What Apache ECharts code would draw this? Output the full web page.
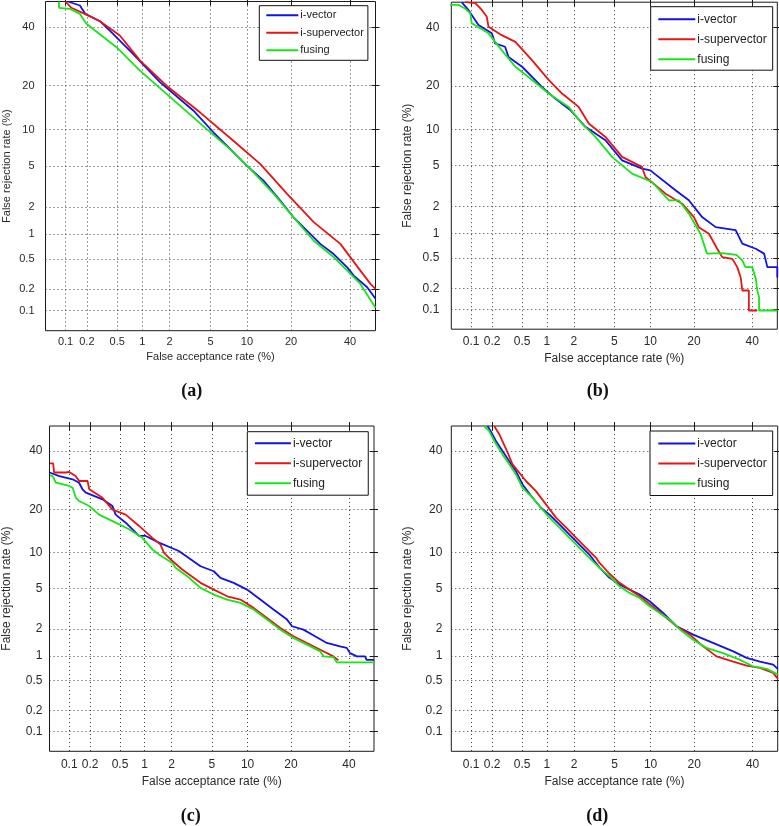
<!DOCTYPE html>
<html><head><meta charset="utf-8">
<script src="https://cdn.jsdelivr.net/npm/echarts@6.0.0/dist/echarts.min.js"></script>
<style>html,body{margin:0;padding:0;background:#fff}#c{width:779px;height:826px}</style>
</head><body><div id="c"></div><script>
// ---- tick labels (percent) ----
const tickLabels = [0.1, 0.2, 0.5, 1, 2, 5, 10, 20, 40];
const seriesNames = ['i-vector', 'i-supervector', 'fusing'];
const panelTags = ['(a)', '(b)', '(c)', '(d)'];
const xTitle = 'False acceptance rate (%)';
const yTitle = 'False rejection rate (%)';

// ---- panel (a) ----
const aIvecFA = [0.108,0.16,0.19,0.30,0.444,0.78,1.58,3.46,5.3,7.82,9.97,13.2,17.1,20.7,24.7,29.1,33.8,38.9,41.4,46.7,50];
const aIvecFR = [50,48.4,45.1,42.2,37.3,30.05,21.0,13.8,9.56,6.6,5.05,3.67,2.33,1.55,1.10,0.77,0.58,0.394,0.307,0.214,0.148];
const aIsupFA = [0.10,0.121,0.187,0.30,0.54,0.94,1.86,4.0,7.82,12.5,18.9,26.9,36.3,44.0,48.0,50];
const aIsupFR = [50,47.5,45.1,42.2,36.7,27.8,20.0,13.4,8.2,5.23,2.72,1.37,0.77,0.357,0.238,0.203];
const aFuseFA = [0.08,0.08,0.114,0.16,0.197,0.49,0.94,1.86,4.62,7.82,11.2,15.5,20.7,26.9,33.8,38.9,44.0,50];
const aFuseFR = [50,47.5,47.1,45.1,41.2,32.4,24.5,17.8,10.1,6.6,4.39,2.72,1.55,0.84,0.53,0.357,0.238,0.11];

// ---- panel (b) ----
const bIvecFA = [0.072,0.091,0.128,0.198,0.22,0.30,0.333,0.50,0.875,1.25,1.83,2.64,4.14,5.86,8.61,10.0,15.2,18.6,22.4,26.7,33.7,36.2,41.4,44.7,46.0,50,50];
const bIvecFR = [50,46.9,40.9,37.7,33.9,32.7,29.1,25.8,19.7,16.6,13.9,10.5,8.24,5.58,4.7,4.53,2.92,2.31,1.53,1.18,1.09,0.755,0.655,0.57,0.384,0.384,0.28];
const bIsupFA = [0.081,0.115,0.143,0.168,0.178,0.27,0.41,0.663,1.05,1.49,2.25,2.85,4.14,5.86,7.6,8.61,9.16,12.97,16.85,20.0,21.4,24.5,27.2,28.9,32.5,34.3,35.6,36.2,38.7,38.7,42.0];
const bIsupFR = [50,49.6,46.9,44.2,40.2,37.0,34.5,28.0,21.7,17.9,14.6,11.1,8.76,5.98,5.22,4.87,3.93,2.7,2.13,1.53,1.18,0.99,0.655,0.516,0.49,0.384,0.28,0.186,0.186,0.096,0.096];
const bFuseFA = [0.048,0.065,0.081,0.097,0.102,0.178,0.27,0.41,0.60,1.05,1.76,2.43,3.32,4.77,7.13,10.3,13.7,16.0,18.6,21.9,23.9,28.9,34.0,36.2,37.4,40.0,41.4,42.0,42.7,42.7,50];
const bFuseFR = [48.9,48.9,47.5,45.5,41.6,37.7,31.5,25.8,22.6,17.9,14.6,11.1,8.76,5.98,4.23,3.52,2.31,2.31,1.67,0.99,0.57,0.58,0.55,0.47,0.384,0.384,0.27,0.186,0.15,0.096,0.096];

// ---- panel (c) ----
const cIvecFA = [0.05,0.071,0.112,0.139,0.156,0.174,0.295,0.40,0.44,0.59,0.86,1.03,1.46,2.39,3.93,5.21,5.97,7.74,9.9,12.45,15.4,18.9,20.3,23.7,27.5,31.6,36.5,39.1,40.4,43.1,46.4,47.0,50];
const cIvecFR = [31.9,30.6,29.5,28.3,26.1,25.0,22.9,20.9,18.5,16.4,13.3,13.3,11.9,10.3,7.8,7.09,6.23,5.63,4.9,3.96,3.17,2.51,2.14,1.97,1.67,1.41,1.29,1.24,1.08,0.99,0.99,0.90,0.90];
const cIsupFA = [0.051,0.057,0.059,0.089,0.10,0.125,0.139,0.184,0.194,0.295,0.40,0.59,0.86,1.23,1.52,1.66,1.96,2.59,3.93,5.21,6.82,8.78,11.1,13.9,17.1,20.7,24.8,29.3,34.0,35.9];
const cIsupFR = [35.3,35.3,31.9,31.9,32.1,30.6,28.9,28.9,26.1,23.4,19.9,18.5,15.6,12.9,11.5,9.97,8.85,7.33,5.63,4.9,4.25,3.96,3.29,2.61,2.05,1.67,1.41,1.18,0.99,0.89];
const cFuseFA = [0.051,0.056,0.063,0.10,0.112,0.125,0.139,0.194,0.265,0.40,0.65,0.94,1.23,1.46,2.04,2.21,3.0,3.93,5.21,6.82,8.78,11.1,13.9,17.1,20.7,24.8,29.3,30.4,34.0,35.3,50];
const cFuseFR = [30.9,30.6,28.3,27.2,26.6,23.4,22.4,20.9,18.5,16.8,14.8,12.9,10.6,9.68,8.3,7.57,6.3,5.08,4.41,3.96,3.68,3.17,2.51,1.97,1.60,1.35,1.13,0.99,0.97,0.84,0.84];

// ---- panel (d) ----
const dIvecFA = [0.172,0.19,0.225,0.277,0.34,0.416,0.505,0.674,0.85,1.07,1.39,1.79,2.28,2.88,3.62,4.5,5.54,6.77,8.2,9.84,12.4,15.4,19.7,25.7,32.7,37.7,42.9,48.2,50];
const dIvecFR = [50,48,44,40,36.1,32.4,27.7,23.4,20.4,18.5,16.0,13.6,11.5,9.68,7.6,6.23,5.44,4.9,4.41,3.81,2.93,2.14,1.74,1.41,1.13,0.95,0.86,0.79,0.70];
const dIsupFA = [0.213,0.25,0.31,0.376,0.557,0.74,0.975,1.27,1.65,2.11,2.67,3.36,3.62,4.5,5.54,8.2,11.05,15.4,18.8,22.6,26.9,32.7,37.7,42.9,48.2,50];
const dIsupFR = [50,46.7,40.7,34.9,28.9,25.5,21.4,17.7,15.2,12.9,10.9,9.12,8.3,6.75,5.63,4.25,3.17,2.14,1.74,1.29,0.99,0.86,0.77,0.72,0.625,0.53];
const dFuseFA = [0.154,0.181,0.213,0.277,0.34,0.416,0.505,0.674,0.85,1.07,1.39,1.79,2.28,2.88,3.62,4.5,5.54,6.77,8.2,9.84,11.7,13.8,16.2,19.7,23.6,29.1,35.2,40.2,45.6,50];
const dFuseFR = [50,48,44,38.7,34.9,31.2,26.6,23.4,20.4,17.7,15.2,12.9,10.9,9.12,7.57,6.43,5.25,4.57,4.1,3.41,2.93,2.51,1.97,1.53,1.24,1.08,0.90,0.75,0.70,0.60];

const colors = ['#1212e8', '#e81414', '#16e616'];

// inverse normal CDF (probit) used for the DET scale
function probit(p){
  const a=[-3.969683028665376e+01,2.209460984245205e+02,-2.759285104469687e+02,1.383577518672690e+02,-3.066479806614716e+01,2.506628277459239e+00];
  const b=[-5.447609879822406e+01,1.615858368580409e+02,-1.556989798598866e+02,6.680131188771972e+01,-1.328068155288572e+01];
  const c=[-7.784894002430293e-03,-3.223964580411365e-01,-2.400758277161838e+00,-2.549732539343734e+00,4.374664141464968e+00,2.938163982698783e+00];
  const d=[7.784695709041462e-03,3.224671290700398e-01,2.445134137142996e+00,3.754408661907416e+00];
  const pl=0.02425, ph=1-pl; let q,r;
  if(p<pl){q=Math.sqrt(-2*Math.log(p));return (((((c[0]*q+c[1])*q+c[2])*q+c[3])*q+c[4])*q+c[5])/((((d[0]*q+d[1])*q+d[2])*q+d[3])*q+1);}
  if(p<=ph){q=p-0.5;r=q*q;return (((((a[0]*r+a[1])*r+a[2])*r+a[3])*r+a[4])*r+a[5])*q/(((((b[0]*r+b[1])*r+b[2])*r+b[3])*r+b[4])*r+1);}
  q=Math.sqrt(-2*Math.log(1-p));return -(((((c[0]*q+c[1])*q+c[2])*q+c[3])*q+c[4])*q+c[5])/((((d[0]*q+d[1])*q+d[2])*q+d[3])*q+1);
}
const pz = v => probit(v/100);
const AX_MIN = pz(0.05), AX_MAX = 0;
const tickPos = tickLabels.map(pz);
function fmt(v){ let best='', bd=1e9; tickLabels.forEach(l=>{const dd=Math.abs(pz(l)-v); if(dd<bd){bd=dd;best=String(l);}}); return best; }

const panels = [
  {grid:{left:45,top:1.5,width:330.5,height:329.2}, fs:11, xm:6, ym:11, xg:21, yg:33.5,
   lg:{left:259.3,top:5.7,padding:[4,4,4.6,6],itemGap:6.5,itemWidth:32,fs:11}, tag:[191.7,391.7],
   data:[[aIvecFA,aIvecFR],[aIsupFA,aIsupFR],[aFuseFA,aFuseFR]]},
  {grid:{left:451.3,top:2.2,width:326,height:327}, fs:12, xm:6, ym:12, xg:23.5, yg:38,
   lg:{left:650.7,top:6.7,padding:[6.5,6,5,6.6],itemGap:8,itemWidth:37,fs:12}, tag:[597.7,391.7],
   data:[[bIvecFA,bIvecFR],[bIsupFA,bIsupFR],[bFuseFA,bFuseFR]]},
  {grid:{left:48,top:426,width:326,height:325.3}, fs:12, xm:7, ym:7, xg:24.5, yg:36.5,
   lg:{left:247.3,top:431.7,padding:[5.5,6,6,6.6],itemGap:8,itemWidth:36,fs:12}, tag:[190.8,816.7],
   data:[[cIvecFA,cIvecFR],[cIsupFA,cIsupFR],[cFuseFA,cFuseFR]]},
  {grid:{left:451.3,top:426,width:326.4,height:325.3}, fs:12, xm:7, ym:9, xg:24.5, yg:38,
   lg:{left:650,top:431,padding:[6.5,6,6,7.3],itemGap:8,itemWidth:37,fs:12}, tag:[597.3,816.7],
   data:[[dIvecFA,dIvecFR],[dIsupFA,dIsupFR],[dFuseFA,dFuseFR]]}
];

const FONT = '"Liberation Sans", Arial, sans-serif';
const grid=[], xAxis=[], yAxis=[], series=[], legend=[], graphic=[];
const gridLine = {show:true, lineStyle:{color:'#3a3a3a', width:1, type:[1,3]}};
panels.forEach((P,i)=>{
  grid.push(Object.assign({show:true, borderColor:'#1a1a1a', borderWidth:1, backgroundColor:'#fff', containLabel:false}, P.grid));
  const common = {type:'value', gridIndex:i, min:AX_MIN, max:AX_MAX,
    axisLine:{show:false}, axisTick:{show:true, inside:true, length:4, lineStyle:{color:'#1a1a1a'}, customValues:tickPos}};
  xAxis.push(Object.assign({}, common, {position:'bottom',
    axisLabel:{show:true, customValues:tickPos, formatter:fmt, fontSize:P.fs, fontFamily:FONT, color:'#2a2a2a', margin:P.xm},
    splitLine:gridLine, name:xTitle, nameLocation:'middle', nameGap:P.xg,
    nameTextStyle:{fontSize:P.fs, fontFamily:FONT, color:'#2a2a2a'}}));
  yAxis.push(Object.assign({}, common, {position:'left',
    axisLabel:{show:true, customValues:tickPos, formatter:fmt, fontSize:P.fs, fontFamily:FONT, color:'#2a2a2a', margin:P.ym},
    splitLine:gridLine, name:yTitle, nameLocation:'middle', nameGap:P.yg,
    nameTextStyle:{fontSize:P.fs, fontFamily:FONT, color:'#2a2a2a'}}));
  P.data.forEach((sd,k)=>{
    series.push({type:'line', name:seriesNames[k], xAxisIndex:i, yAxisIndex:i,
      data: sd[0].map((v,j)=>[pz(v), pz(sd[1][j])]),
      symbol:'none', showSymbol:false, animation:false, clip:true,
      lineStyle:{color:colors[k], width:1.8}, itemStyle:{color:colors[k]}});
  });
  legend.push({show:true, orient:'vertical', left:P.lg.left, top:P.lg.top, padding:P.lg.padding,
    itemGap:P.lg.itemGap, itemWidth:P.lg.itemWidth, itemHeight:12, data:seriesNames,
    itemStyle:{opacity:0}, lineStyle:{width:2},
    borderColor:'#111', borderWidth:1, borderRadius:0, backgroundColor:'#fff', selectedMode:false,
    textStyle:{fontSize:P.lg.fs, fontFamily:FONT, color:'#222', padding:[0,0,0,-3]}});
  graphic.push({type:'text', x:P.tag[0], y:P.tag[1],
    style:{text:panelTags[i], font:'bold 18px "Liberation Serif", "Times New Roman", serif', fill:'#111', align:'center', verticalAlign:'middle'}});
});
// mirrored ticks on top / right (no labels)
panels.forEach((P,i)=>{
  const m = {type:'value', gridIndex:i, min:AX_MIN, max:AX_MAX, axisLine:{show:false},
    axisTick:{show:true, inside:true, length:4, lineStyle:{color:'#1a1a1a'}, customValues:tickPos},
    axisLabel:{show:false}, splitLine:{show:false}};
  xAxis.push(Object.assign({}, m, {position:'top'}));
  yAxis.push(Object.assign({}, m, {position:'right'}));
});

const chart = echarts.init(document.getElementById('c'), null, {renderer:'canvas'});
chart.setOption({backgroundColor:'#fff', animation:false, grid, xAxis, yAxis, series, legend, graphic});
</script></body></html>
